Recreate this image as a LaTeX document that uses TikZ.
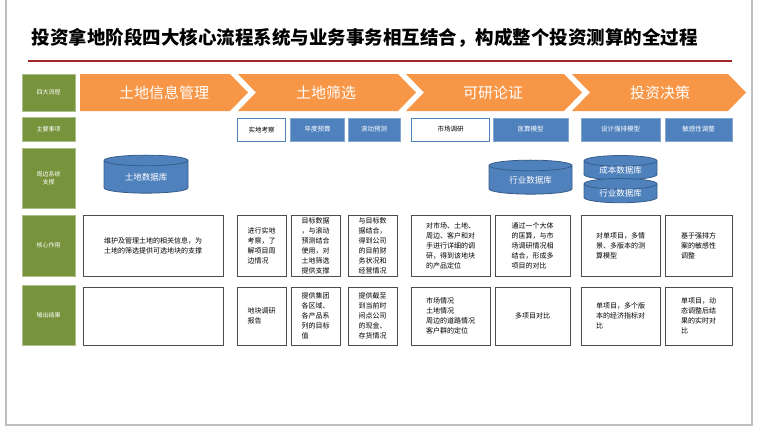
\documentclass[tikz,border=0pt]{standalone}
\usepackage{fontspec}
\setmainfont{Noto Sans CJK SC}
\usetikzlibrary{shapes.geometric}
\definecolor{leaf}{HTML}{77933C}
\definecolor{orng}{HTML}{F79646}
\definecolor{blu}{HTML}{4F81BD}
\definecolor{bluline}{HTML}{385D8A}
\definecolor{darkred}{HTML}{A0282B}
\tikzset{
  side/.style={fill=leaf,draw=leaf!60,text=white,font=\fontsize{6}{8}\selectfont,minimum width=53pt,align=center,inner sep=1pt},
  chev/.style={fill=orng},
  chevtxt/.style={text=white,font=\fontsize{15}{17}\selectfont},
  task/.style={fill=blu,draw=blu!70,text=white,font=\fontsize{6.5}{8}\selectfont,minimum height=23pt,inner sep=0pt},
  taskw/.style={fill=white,draw=blu,line width=1pt,font=\fontsize{6.5}{8}\selectfont,minimum height=23pt,inner sep=0pt},
  cell/.style={draw=black!70,line width=0.8pt,font=\fontsize{7}{10}\selectfont,align=left,inner sep=1pt},
  db/.style={cylinder,shape border rotate=90,aspect=0.25,fill=blu,draw=bluline,line width=0.8pt,text=white,font=\fontsize{8.5}{10}\selectfont,inner sep=0pt}
}
\begin{document}
\begin{tikzpicture}[x=1pt,y=-1pt]
\useasboundingbox (0,0) rectangle (760,431);
\fill[white] (0,0) rectangle (760,431);
\draw[black!25,line width=1.5pt] (6,0) -- (6,425) -- (752,425) -- (752,0);
% title
\node[anchor=west,font=\fontsize{18.5}{20}\selectfont\bfseries] (title) at (28,38) {投资拿地阶段四大核心流程系统与业务事务相互结合，构成整个投资测算的全过程};
\draw[darkred,line width=2.5pt] (28,61) -- (732,61);
% left column
\node[side,minimum height=37pt] (s1) at (48.5,92.5) {四大流程};
\node[side,minimum height=24pt] (s2) at (48.5,129.5) {主要事项};
\node[side,minimum height=60pt] (s3) at (48.5,178) {周边系统\\支撑};
\node[side,minimum height=61pt] (s4) at (48.5,245.5) {核心作用};
\node[side,minimum height=60pt] (s5) at (48.5,315) {输出结果};
% chevrons
\fill[chev] (80,74) -- (230,74) -- (248,92.5) -- (230,111) -- (80,111) -- cycle;
\fill[chev] (238,74) -- (398,74) -- (416,92.5) -- (398,111) -- (238,111) -- (256,92.5) -- cycle;
\fill[chev] (406,74) -- (564,74) -- (582,92.5) -- (564,111) -- (406,111) -- (424,92.5) -- cycle;
\fill[chev] (572,74) -- (728,74) -- (746,92.5) -- (728,111) -- (572,111) -- (590,92.5) -- cycle;
\node[chevtxt] (c1) at (164,92.5) {土地信息管理};
\node[chevtxt] (c2) at (326,92.5) {土地筛选};
\node[chevtxt] (c3) at (493,92.5) {可研论证};
\node[chevtxt] (c4) at (660,92.5) {投资决策};
% tasks
\node[taskw,minimum width=48pt] (t1) at (261.5,129.5) {实地考察};
\node[task,minimum width=54pt] (t2) at (317.5,129.5) {年度预算};
\node[task,minimum width=52pt] (t3) at (374,129.5) {滚动预测};
\node[taskw,minimum width=78pt] (t4) at (450.5,129.5) {市场调研};
\node[task,minimum width=75pt] (t5) at (530.5,129.5) {匡算模型};
\node[task,minimum width=79pt] (t6) at (620.5,129.5) {设计强排模型};
\node[task,minimum width=67pt] (t7) at (698.5,129.5) {敏感性调整};
% databases
\node[db,minimum width=84pt,minimum height=38pt] (d1) at (146,177) {土地数据库};
\node[db,minimum width=83pt,minimum height=34pt] (d2) at (530.5,180) {行业数据库};
\node[db,minimum width=73pt,minimum height=19pt] (d3) at (620.5,170.5) {成本数据库};
\node[db,minimum width=73pt,minimum height=19pt] (d4) at (620.5,193.5) {行业数据库};
% core role row
\node[cell,minimum width=140pt,minimum height=61pt] (k1) at (153,245.5) {维护及管理土地的相关信息，为\\土地的筛选提供可选地块的支撑};
\node[cell,minimum width=49pt,minimum height=61pt] (k2) at (261.5,245.5) {进行实地\\考察，了\\解项目周\\边情况};
\node[cell,minimum width=49pt,minimum height=61pt] (k3) at (315.5,245.5) {目标数据\\，与滚动\\预测结合\\使用，对\\土地筛选\\提供支撑};
\node[cell,minimum width=49pt,minimum height=61pt] (k4) at (372.5,245.5) {与目标数\\据结合，\\得到公司\\的目前财\\务状况和\\经营情况};
\node[cell,minimum width=79pt,minimum height=61pt] (k5) at (450.5,245.5) {对市场、土地、\\周边、客户和对\\手进行详细的调\\研，得到该地块\\的产品定位};
\node[cell,minimum width=75pt,minimum height=61pt] (k6) at (532.5,245.5) {通过一个大体\\的匡算，与市\\场调研情况相\\结合，形成多\\项目的对比};
\node[cell,minimum width=79pt,minimum height=61pt] (k7) at (620.5,245.5) {对单项目，多情\\景、多版本的测\\算模型};
\node[cell,minimum width=67pt,minimum height=61pt] (k8) at (698.5,245.5) {基于强排方\\案的敏感性\\调整};
% output row
\node[cell,minimum width=140pt,minimum height=58pt] (o1) at (153,316) {};
\node[cell,minimum width=49pt,minimum height=58pt] (o2) at (261.5,316) {地块调研\\报告};
\node[cell,minimum width=49pt,minimum height=58pt] (o3) at (315.5,316) {提供集团\\各区域、\\各产品系\\列的目标\\值};
\node[cell,minimum width=49pt,minimum height=58pt] (o4) at (372.5,316) {提供截至\\到当前时\\间点公司\\的现金、\\存货情况};
\node[cell,minimum width=79pt,minimum height=58pt] (o5) at (450.5,316) {市场情况\\土地情况\\周边的道路情况\\客户群的定位};
\node[cell,minimum width=75pt,minimum height=58pt] (o6) at (532.5,316) {多项目对比};
\node[cell,minimum width=79pt,minimum height=58pt] (o7) at (620.5,316) {单项目，多个版\\本的经济指标对\\比};
\node[cell,minimum width=67pt,minimum height=58pt] (o8) at (698.5,316) {单项目，动\\态调整后结\\果的实时对\\比};
\end{tikzpicture}
\end{document}
